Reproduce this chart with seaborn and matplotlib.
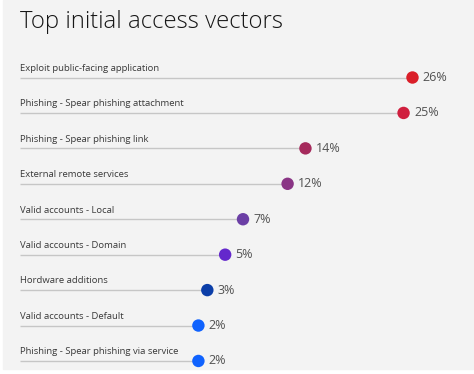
import numpy as np
import matplotlib
matplotlib.use("Agg")
import matplotlib.pyplot as plt
import seaborn as sns

categories = [
    "Exploit public-facing application",
    "Phishing - Spear phishing attachment",
    "Phishing - Spear phishing link",
    "External remote services",
    "Valid accounts - Local",
    "Valid accounts - Domain",
    "Hordware additions",
    "Valid accounts - Default",
    "Phishing - Spear phishing via service",
]
values = [26, 25, 14, 12, 7, 5, 3, 2, 2]
dot_colors = ["#da1e28", "#d01f3e", "#a52a5c", "#8a3585", "#6b3fa5",
              "#6428cc", "#0b3ea8", "#0f62fe", "#0f62fe"]

sns.set_style("white")
plt.rcParams["font.family"] = ["Open Sans", "DejaVu Sans"]

fig = plt.figure(figsize=(4.74, 3.74), dpi=100)
fig.patch.set_facecolor("white")
fig.add_artist(plt.Rectangle((3 / 474, 5 / 374), 470 / 474, 369 / 374,
                             transform=fig.transFigure, color="#f3f3f3", zorder=0))

ax = fig.add_axes([20 / 474, 2.4 / 374, 446 / 474, 318.9 / 374])
ax.set_facecolor("none")
rows = np.arange(len(categories))
xmin, xmax = -18, 32

ax.hlines(rows, xmin, values, color="#c6c6c6", lw=1, zorder=1)
sns.scatterplot(x=values, y=rows, hue=categories, palette=dot_colors,
                s=80, linewidth=0, legend=False, ax=ax, zorder=3)

for r, (cat, v) in enumerate(zip(categories, values)):
    ax.text(xmin, r - 0.19, cat, fontsize=6.8, color="#393939", va="baseline", ha="left")
    ax.annotate(f"{v}%", (v, r), xytext=(7.5, 0), textcoords="offset points",
                fontsize=9, color="#525252", va="center", ha="left")

ax.set_xlim(xmin, xmax)
ax.set_ylim(8.3, -0.7)
ax.axis("off")

fig.text(20 / 474, 1 - 28 / 374, "Top initial access vectors", fontsize=17.2,
         fontweight="light", color="#161616", va="baseline", ha="left")

fig.savefig("out.png", dpi=100)
